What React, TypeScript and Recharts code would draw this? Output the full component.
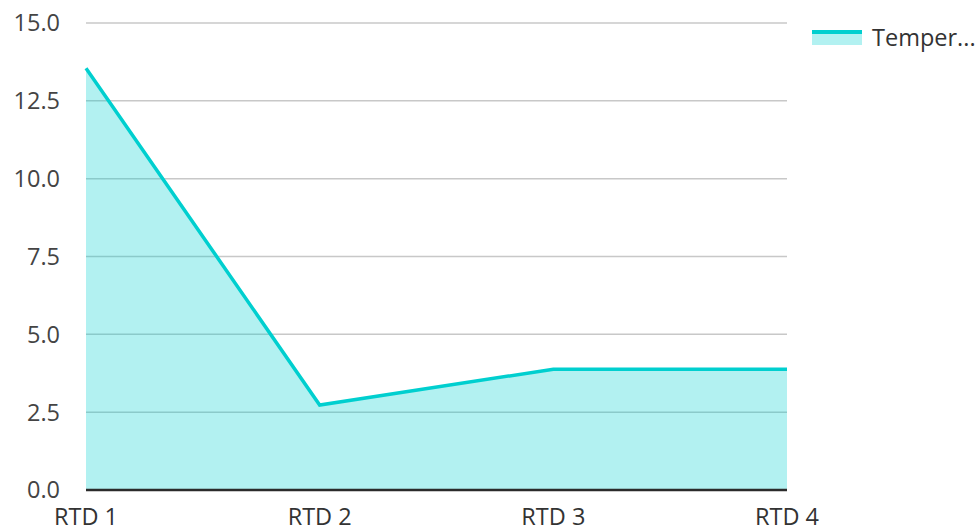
import { AreaChart, Area, XAxis, YAxis, CartesianGrid } from 'recharts'

const categories = ['RTD 1', 'RTD 2', 'RTD 3', 'RTD 4']
const temperatures = [13.55, 2.73, 3.88, 3.88]
const yTicks = [0, 2.5, 5, 7.5, 10, 12.5, 15]
const seriesName = 'Temperature'

const data = categories.map((name, i) => ({ name, value: temperatures[i] }))

const LINE = '#00cfcf'
const FONT = '"Open Sans", "Noto Sans", sans-serif'

const truncate = (s: string, n: number) => (s.length > n ? s.slice(0, n) + '...' : s)

// legend sits outside the chart so it doesn't eat into the plot width
const LegendBox = () => (
  <div
    style={{
      position: 'absolute',
      left: 812,
      top: 21,
      display: 'flex',
      alignItems: 'center',
      fontFamily: FONT,
      fontSize: 23.5,
      color: '#333',
      whiteSpace: 'nowrap',
    }}
  >
    <svg width={50} height={16} style={{ marginRight: 10 }}>
      <rect x={0} y={2} width={50} height={14} fill={LINE} fillOpacity={0.3} />
      <line x1={0} x2={50} y1={3} y2={3} stroke={LINE} strokeWidth={4} />
    </svg>
    <span>{truncate(seriesName, 6)}</span>
  </div>
)

const App = () => (
  <div style={{ position: 'absolute', left: 0, top: 0, width: 977, height: 531, background: '#fff' }}>
    <AreaChart width={977} height={531} data={data} margin={{ top: 23, right: 190, left: 0, bottom: 0 }}>
      <CartesianGrid vertical={false} stroke="#c8c8c8" strokeWidth={1.5} />
      <XAxis
        dataKey="name"
        height={41}
        tickLine={false}
        tickSize={0}
        tickMargin={18}
        axisLine={{ stroke: '#2b2b2b', strokeWidth: 2.5 }}
        tick={{ fill: '#333', fontSize: 23.5, fontFamily: FONT }}
        interval={0}
      />
      <YAxis
        width={86}
        domain={[0, 15]}
        ticks={yTicks}
        tickFormatter={(v: number) => v.toFixed(1)}
        axisLine={false}
        tickLine={false}
        tickSize={0}
        tickMargin={26}
        tick={{ fill: '#444', fontSize: 23.5, fontFamily: FONT }}
      />
      <Area
        type="linear"
        dataKey="value"
        name={seriesName}
        stroke={LINE}
        strokeWidth={3.5}
        fill={LINE}
        fillOpacity={0.3}
        dot={false}
        activeDot={false}
        isAnimationActive={false}
      />
    </AreaChart>
    <LegendBox />
  </div>
)

export default App
